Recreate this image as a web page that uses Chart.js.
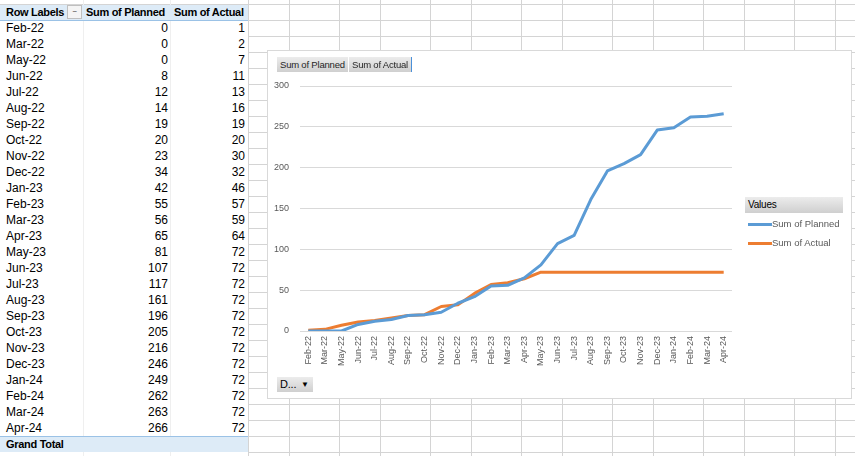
<!DOCTYPE html>
<html lang="en">
<head>
  <meta charset="UTF-8" />
  <title>Planned vs Actual</title>
  <script src="https://cdn.jsdelivr.net/npm/chart.js"></script>
  <style>
    body { margin: 0; width: 855px; height: 456px; overflow: hidden; background: #fff; position: relative;
           font-family: "Liberation Sans", Arial, sans-serif; }
    .hl { position: absolute; height: 1px; background: #d4d4d4; }
    .vl { position: absolute; width: 1px; background: #d4d4d4; }
    .cell { position: absolute; height: 16px; line-height: 16px; font-size: 12px; color: #000; white-space: nowrap; }
    .hd { font-weight: bold; font-size: 11px; letter-spacing: -0.3px; }
    .r { text-align: right; }
    .band { position: absolute; left: 0; width: 248px; height: 16px; background: #ddebf7; }
    .btn { position: absolute; height: 15px; line-height: 15px; font-size: 9.5px; color: #262626; letter-spacing: -0.2px;
           background: linear-gradient(#ececec, #cfcfcf); box-sizing: border-box; padding-left: 3px; white-space: nowrap; overflow: hidden; }
    #chartBox { position: absolute; left: 267px; top: 50px; width: 585px; height: 349px;
                background: #fff; border: 1px solid #d9d9d9; box-sizing: border-box; }
    #chartBox canvas { position: absolute; left: -1px; top: -1px; }
    .leg { position: absolute; font-size: 9.5px; color: #595959; white-space: nowrap; }
    .legLine { position: absolute; height: 3px; width: 24px; }
  </style>
</head>
<body>
  <div id="sheet"></div>

  <div id="chartBox">
    <canvas id="trend" width="585" height="349"></canvas>
  </div>
  <div class="btn" style="left:277px;top:57px;width:71px;">Sum of Planned</div>
  <div class="btn" style="left:349px;top:57px;width:63px;border-right:1px solid #4a90d9;">Sum of Actual</div>
  <div class="btn" style="left:277px;top:377px;width:36px;font-size:11px;color:#000;">D...<span style="position:absolute;left:24px;font-size:8px;">&#9660;</span></div>

  <div class="btn" style="left:745px;top:197px;width:98px;height:16px;line-height:16px;font-size:10px;color:#000;">Values</div>
  <div id="legend"></div>

  <script>
    const months = ['Feb-22','Mar-22','May-22','Jun-22','Jul-22','Aug-22','Sep-22','Oct-22','Nov-22','Dec-22',
                    'Jan-23','Feb-23','Mar-23','Apr-23','May-23','Jun-23','Jul-23','Aug-23','Sep-23','Oct-23',
                    'Nov-23','Dec-23','Jan-24','Feb-24','Mar-24','Apr-24'];
    const planned = [0,0,0,8,12,14,19,20,23,34,42,55,56,65,81,107,117,161,196,205,216,246,249,262,263,266];
    const actual  = [1,2,7,11,13,16,19,20,30,32,46,57,59,64,72,72,72,72,72,72,72,72,72,72,72,72];
    const seriesNames = ['Sum of Planned', 'Sum of Actual'];
    const seriesColors = ['#5b9bd5', '#ed7d31'];

    // worksheet grid
    const sheet = document.getElementById('sheet');
    const colX = [248,289,339,380,430,471,521,562,612,653,703,744,794,835];
    function add(cls, style, text) {
      const d = document.createElement('div');
      d.className = cls;
      d.setAttribute('style', style);
      if (text !== undefined) d.textContent = text;
      sheet.appendChild(d);
      return d;
    }
    for (let y = 4; y < 456; y += 16) add('hl', `left:248px;width:607px;top:${y}px;`);
    add('hl', 'left:0;width:248px;top:4px;');
    colX.forEach(x => add('vl', `left:${x}px;top:0;height:456px;`));
    [83, 170].forEach(x => add('vl', `left:${x}px;top:0;height:456px;background:#efefef;`));

    // pivot table
    add('band', 'top:5px;border-bottom:1px solid #9bc2e6;height:15px;');
    add('cell hd', 'left:6px;top:4px;', 'Row Labels');
    add('btn', 'left:67px;top:5px;width:15px;height:14px;background:#f4f4f4;border:1px solid #bfbfbf;padding:0;font-size:7px;text-align:center;line-height:10px;', '\u2013');
    add('cell hd', 'left:86px;top:4px;', 'Sum of Planned');
    add('cell hd', 'left:174px;top:4px;', 'Sum of Actual');
    months.forEach((m, i) => {
      const y = 20 + i * 16;
      add('cell', `left:6px;top:${y}px;`, m);
      add('cell r', `left:83px;width:85px;top:${y}px;`, planned[i]);
      add('cell r', `left:170px;width:75px;top:${y}px;`, actual[i]);
    });
    add('band', 'top:436px;border-top:1px solid #9bc2e6;height:15px;');
    add('cell hd', 'left:6px;top:436px;', 'Grand Total');

    // legend
    const legend = document.getElementById('legend');
    seriesNames.forEach((n, i) => {
      const y = 224 + i * 19;
      legend.insertAdjacentHTML('beforeend',
        `<div class="legLine" style="left:748px;top:${y - 1}px;background:${seriesColors[i]};"></div>` +
        `<div class="leg" style="left:772px;top:${y - 6}px;">${n}</div>`);
    });

    new Chart(document.getElementById('trend'), {
      type: 'line',
      data: {
        labels: months,
        datasets: [
          { label: seriesNames[0], data: planned, borderColor: seriesColors[0], borderWidth: 3, pointRadius: 0, tension: 0, borderJoinStyle: 'round' },
          { label: seriesNames[1], data: actual, borderColor: seriesColors[1], borderWidth: 3, pointRadius: 0, tension: 0, borderJoinStyle: 'round' }
        ]
      },
      options: {
        responsive: false,
        animation: false,
        layout: { padding: { left: 0, top: 36, right: 120, bottom: 0 } },
        plugins: { legend: { display: false }, tooltip: { enabled: false } },
        scales: {
          x: {
            offset: true,
            grid: { display: false, drawTicks: false },
            border: { display: false },
            ticks: { autoSkip: false, minRotation: 90, maxRotation: 90, padding: 5,
                     color: '#595959', font: { family: 'Liberation Sans', size: 9 } },
            afterFit: s => { s.height = 68; }
          },
          y: {
            min: 0, max: 300,
            grid: { color: '#d9d9d9', drawTicks: false },
            border: { display: false },
            ticks: { stepSize: 50, padding: 11, color: '#595959', font: { family: 'Liberation Sans', size: 9 } },
            afterFit: s => { s.width = 33; }
          }
        }
      }
    });
  </script>
</body>
</html>
